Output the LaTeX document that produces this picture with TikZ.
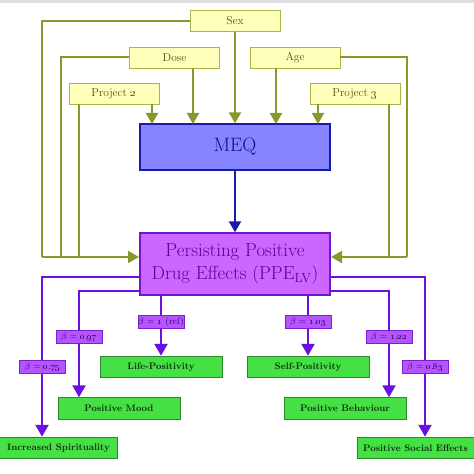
\documentclass[tikz,border=0pt]{standalone}
\usetikzlibrary{arrows.meta,calc}
\definecolor{yfill}{HTML}{FFFFBC}
\definecolor{ydraw}{HTML}{A8B848}
\definecolor{olive}{HTML}{869A2C}
\definecolor{ytext}{HTML}{4A5808}
\definecolor{meqfill}{HTML}{8585FF}
\definecolor{meqdraw}{HTML}{1A1AAA}
\definecolor{meqtext}{HTML}{10107A}
\definecolor{ppefill}{HTML}{CC66FF}
\definecolor{ppedraw}{HTML}{6A1ACC}
\definecolor{ppetext}{HTML}{5A0090}
\definecolor{pline}{HTML}{6A10E0}
\definecolor{lfill}{HTML}{B455FF}
\definecolor{ldraw}{HTML}{7A20CC}
\definecolor{ltext}{HTML}{3A0070}
\definecolor{gfill}{HTML}{44E044}
\definecolor{gdraw}{HTML}{2A8A2A}
\definecolor{gtext}{HTML}{0E2E0E}
\tikzset{
  ybox/.style={draw=ydraw, fill=yfill, line width=0.9bp, minimum width=90bp, minimum height=21bp, inner sep=0pt, text=ytext, font=\fontsize{11.5}{13}\selectfont},
  meqbox/.style={draw=meqdraw, fill=meqfill, line width=1.3bp, minimum width=190bp, minimum height=46bp, inner sep=0pt, text=meqtext, font=\fontsize{19.5}{22}\selectfont},
  ppebox/.style={draw=ppedraw, fill=ppefill, line width=1.3bp, minimum width=190bp, minimum height=62bp, inner sep=0pt, text=ppetext, align=center, font=\fontsize{19}{23}\selectfont},
  gbox/.style={draw=gdraw, fill=gfill, line width=1bp, minimum width=122bp, minimum height=21.5bp, inner sep=0pt, text=gtext, font=\bfseries\fontsize{9.5}{11}\selectfont},
  lbox/.style={draw=ldraw, fill=lfill, line width=0.8bp, minimum width=46bp, minimum height=12.5bp, inner sep=0pt, text=ltext, font=\fontsize{9.5}{10}\selectfont},
  oarr/.style={draw=olive, line width=2bp, -{Triangle[width=12bp,length=11bp]}},
  oline/.style={draw=olive, line width=2bp},
  barr/.style={draw=meqdraw, line width=2bp, -{Triangle[width=12bp,length=11bp]}},
  parr/.style={draw=pline, line width=2.4bp, -{Triangle[width=13bp,length=12bp]}},
}
\begin{document}
\begin{tikzpicture}[x=1bp,y=-1bp]
\useasboundingbox (0,0) rectangle (474,474);
\fill[black!12] (0,0) rectangle (474,3);
% top boxes
\node[ybox] (sex) at (235,21) {Sex};
\node[ybox] (dose) at (174.5,57.5) {Dose};
\node[ybox] (age) at (295,57.5) {Age};
\node[ybox] (p2) at (114,93.5) {Project \oldstylenums{2}};
\node[ybox] (p3) at (355,93.5) {Project \oldstylenums{3}};
\node[meqbox] (meq) at (235,147) {MEQ};
\node[ppebox] (ppe) at (235,264) {Persisting Positive\\Drug Effects (PPE\textsubscript{LV})};
% green boxes
\node[gbox] (life) at (161,367) {Life-Positivity};
\node[gbox] (self) at (308,367) {Self-Positivity};
\node[gbox] (mood) at (119,408.5) {Positive Mood};
\node[gbox] (behav) at (345,408.5) {Positive Behaviour};
\node[gbox, minimum width=117bp] (spirit) at (58.5,448) {Increased Spirituality};
\node[gbox, minimum width=117bp] (social) at (415.5,448) {Positive Social Effects};
% coordinates
\coordinate (m1) at (152,124);
\coordinate (m2) at (193,124);
\coordinate (m4) at (276,124);
\coordinate (m5) at (318,124);
\coordinate (jl) at (42,257);
\coordinate (jl2) at (61,257);
\coordinate (jl3) at (79,257);
\coordinate (jr) at (407,257);
\coordinate (jr2) at (389,257);
\coordinate (pl) at (139,257);
\coordinate (pr) at (331,257);
% arrows into MEQ
\draw[oarr] (p2.south -| m1) -- (m1);
\draw[oarr] (dose.south -| m2) -- (m2);
\draw[oarr] (sex.south) -- (meq.north);
\draw[oarr] (age.south -| m4) -- (m4);
\draw[oarr] (p3.south -| m5) -- (m5);
% side lines into PPE
\draw[oline] (sex.west) -| (jl);
\draw[oline] (dose.west) -| (jl2);
\draw[oline] (p2.south -| jl3) -- (jl3);
\draw[oarr] (jl) -- (pl);
\draw[oline] (age.east) -| (jr);
\draw[oline] (p3.south -| jr2) -- (jr2);
\draw[oarr] (jr) -- (pr);
% MEQ to PPE
\draw[barr] (meq.south) -- (ppe.north);
% bottom purple
\coordinate (a1) at (42,277);
\coordinate (a2) at (79,291);
\coordinate (a3) at (161,295);
\coordinate (a4) at (308,295);
\coordinate (a5) at (389,291);
\coordinate (a6) at (425,277);
\draw[parr] (ppe.west |- a1) -| (spirit.north -| a1);
\draw[parr] (ppe.west |- a2) -| (mood.north -| a2);
\draw[parr] (ppe.south -| a3) -- (life.north -| a3);
\draw[parr] (ppe.south -| a4) -- (self.north -| a4);
\draw[parr] (ppe.east |- a5) -| (behav.north -| a5);
\draw[parr] (ppe.east |- a6) -| (social.north -| a6);
% labels
\node[lbox] (b1) at (42.5,367) {$\beta$ = \oldstylenums{0.75}};
\node[lbox] (b2) at (79,337) {$\beta$ = \oldstylenums{0.97}};
\node[lbox] (b3) at (161,322) {$\beta$ = \oldstylenums{1} (ref)};
\node[lbox] (b4) at (308,322) {$\beta$ = \oldstylenums{1.03}};
\node[lbox] (b5) at (389,337) {$\beta$ = \oldstylenums{1.22}};
\node[lbox] (b6) at (425,367) {$\beta$ = \oldstylenums{0.83}};
\end{tikzpicture}
\end{document}
